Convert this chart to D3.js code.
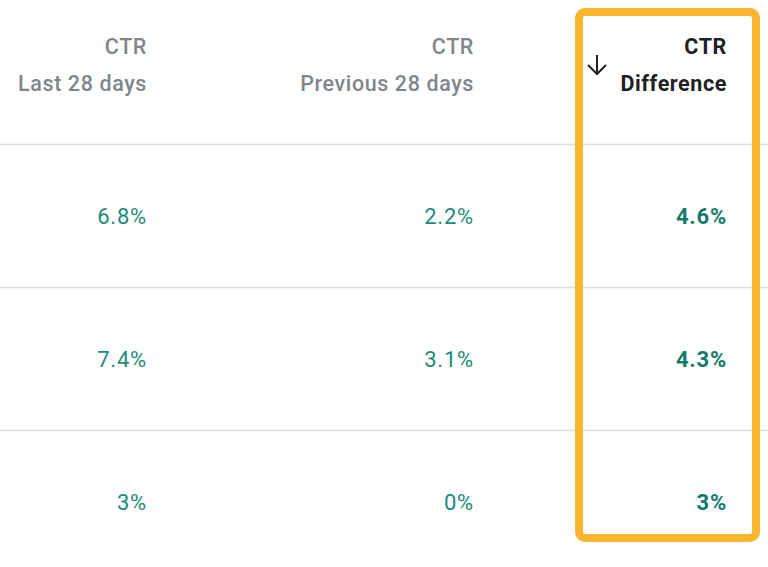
<!DOCTYPE html>
<html><head><meta charset="utf-8">
<script src="https://cdn.jsdelivr.net/npm/d3@7"></script>
<style>body{margin:0;background:#fff}</style>
</head><body>
<svg width="768" height="567"></svg>
<script>
const columns = ["CTR|Last 28 days", "CTR|Previous 28 days", "CTR|Difference"];
const lastPeriod = [6.8, 7.4, 3];
const prevPeriod = [2.2, 3.1, 0];
const difference = [4.6, 4.3, 3];

const svg = d3.select("svg");
const colX = d3.scaleOrdinal().domain([0, 1, 2]).range([147, 474, 727]);
const rowY = d3.scaleBand().domain(d3.range(lastPeriod.length)).range([144, 573]);

const font = "Roboto, sans-serif";

// header
columns.forEach((c, i) => {
  const parts = c.split("|");
  const sel = i === 2;
  parts.forEach((p, j) => {
    svg.append("text")
      .attr("x", colX(i)).attr("y", 54 + j * 37)
      .attr("text-anchor", "end")
      .attr("font-family", font).attr("font-size", 21.5)
      .attr("letter-spacing", "0.6px")
      .attr("font-weight", sel ? 700 : 500)
      .attr("fill", sel ? "#202124" : "#80868b")
      .text(p);
  });
});
// sort arrow
const ax = 597, ay = 55;
svg.append("path")
  .attr("d", `M${ax},${ay} v19 M${ax - 9},${ay + 10} L${ax},${ay + 19} L${ax + 9},${ay + 10}`)
  .attr("fill", "none").attr("stroke", "#202124").attr("stroke-width", 2);

// row dividers
svg.selectAll("line.div").data(rowY.domain()).enter().append("line")
  .attr("x1", 0).attr("x2", 768)
  .attr("y1", d => rowY(d) + 0.5).attr("y2", d => rowY(d) + 0.5)
  .attr("stroke", "#dadce0").attr("stroke-width", 1.5);

const fmt = v => v + "%";
const series = [lastPeriod, prevPeriod, difference];
series.forEach((s, i) => {
  svg.selectAll(null).data(s).enter().append("text")
    .attr("x", colX(i))
    .attr("y", (d, k) => rowY(k) + rowY.bandwidth() / 2 + 8)
    .attr("text-anchor", "end")
    .attr("font-family", font).attr("font-size", 22)
    .attr("letter-spacing", "0.8px")
    .attr("font-weight", i === 2 ? 700 : 400)
    .attr("fill", i === 2 ? "#137a6b" : "#1e8a7a")
    .text(fmt);
});

// highlight box
svg.append("rect")
  .attr("x", 579).attr("y", 12).attr("width", 177).attr("height", 526)
  .attr("rx", 6).attr("fill", "none")
  .attr("stroke", "#fbb62f").attr("stroke-width", 8);
</script>
</body></html>
